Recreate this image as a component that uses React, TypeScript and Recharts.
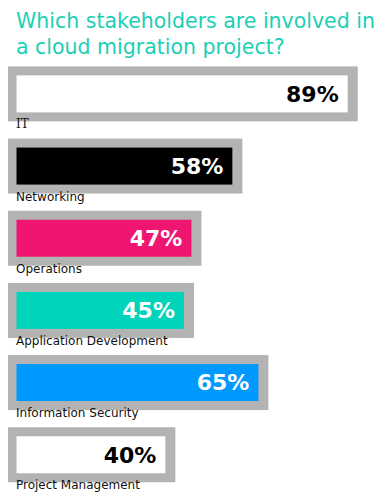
import React from 'react';
import { BarChart, Bar, XAxis, YAxis, LabelList } from 'recharts';

const categories = [
  'IT',
  'Networking',
  'Operations',
  'Application Development',
  'Information Security',
  'Project Management',
];
const shares = [89, 58, 47, 45, 65, 40];
const titleLines = ['Which stakeholders are involved in', 'a cloud migration project?'];

const barFills = ['#ffffff', '#000000', '#ee1670', '#00d4bb', '#0099ff', '#ffffff'];
const valueFills = ['#000000', '#ffffff', '#ffffff', '#ffffff', '#ffffff', '#000000'];
const FRAME = '#b3b3b3';
const TITLE_COLOR = '#1ccfb5';
const FONT = "'DejaVu Sans', Verdana, sans-serif";

const data = categories.map((category, i) => ({ category, share: shares[i] }));

const StakeBar = (props: any) => {
  const { x, y, width, height, index, payload } = props;
  const i = typeof index === 'number' ? index : categories.indexOf(payload?.category);
  return (
    <g>
      <rect x={x - 9.5} y={y - 9} width={width + 19.5} height={height + 18} fill={FRAME} />
      <rect x={x} y={y} width={width} height={height} fill={barFills[i]} />
    </g>
  );
};

const ValueLabel = (props: any) => {
  const { x, y, width, height, value, index } = props;
  const fs = 22;
  return (
    <text
      x={x + width - 9}
      y={y + height / 2 + fs * 0.36}
      textAnchor="end"
      fill={valueFills[index]}
      fontFamily={FONT}
      fontWeight="bold"
      fontSize={fs}
    >
      {`${value}%`}
    </text>
  );
};

const renderCategoryTick = (props: any) => {
  const { y, payload } = props;
  const serif = payload.value === 'IT';
  return (
    <text
      x={8}
      y={y + 35}
      textAnchor="start"
      fill="#111111"
      fontFamily={serif ? "'DejaVu Serif', serif" : FONT}
      fontSize={12}
    >
      {payload.value}
    </text>
  );
};

export default function App() {
  return (
    <div style={{ position: 'relative', width: 374, height: 485 }}>
      <div
        style={{
          position: 'absolute',
          top: 0,
          left: 8,
          fontFamily: FONT,
          fontSize: 20.5,
          lineHeight: '26px',
          color: TITLE_COLOR,
          whiteSpace: 'nowrap',
        }}
      >
        {titleLines[0]}
        <br />
        {titleLines[1]}
      </div>
      <BarChart
        layout="vertical"
        width={374}
        height={485}
        data={data}
        margin={{ top: 49.4, right: 4.5, bottom: 2.6, left: 7.5 }}
        barSize={37}
        style={{ overflow: 'visible' }}
      >
        <XAxis type="number" domain={[0, 97]} hide />
        <YAxis
          type="category"
          dataKey="category"
          width={1}
          axisLine={false}
          tickLine={false}
          interval={0}
          tick={renderCategoryTick}
        />
        <Bar dataKey="share" isAnimationActive={false} shape={<StakeBar />}>
          <LabelList dataKey="share" content={<ValueLabel />} />
        </Bar>
      </BarChart>
    </div>
  );
}
